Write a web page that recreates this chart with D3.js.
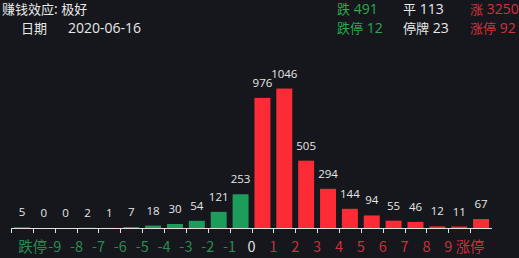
<!DOCTYPE html>
<html>
<head>
<meta charset="utf-8">
<script src="https://cdn.jsdelivr.net/npm/d3@7"></script>
<style>
  html, body { margin: 0; padding: 0; background: #15171c; overflow: hidden; }
  svg { display: block; font-family: "Noto Sans CJK SC", "Noto Sans", sans-serif; }
</style>
</head>
<body>
<svg width="519" height="258"></svg>
<script>
// bar values, left (limit down) to right (limit up)
const barValues = [5, 0, 0, 2, 1, 7, 18, 30, 54, 121, 253, 976, 1046, 505, 294, 144, 94, 55, 46, 12, 11, 67];
const axisLabels = ['跌停', '-9', '-8', '-7', '-6', '-5', '-4', '-3', '-2', '-1', '0',
  '1', '2', '3', '4', '5', '6', '7', '8', '9', '涨停'];
const headerLeft = [['赚钱效应: 极好', 2, 14], ['日期', 21, 33], ['2020-06-16', 68, 33]];
const statLabels = ['跌 491', '平 113', '涨 3250', '跌停 12', '停牌 23', '涨停 92'];

const GREEN = '#1d9d5c', RED = '#fd2b36';
const svg = d3.select('svg');

const x = d3.scaleBand()
  .domain(d3.range(barValues.length))
  .range([11, 492])
  .paddingInner(0.27)
  .paddingOuter(0.135);
const y = d3.scaleLinear().domain([0, 1200]).range([228, 68]);

// split text so latin digits get a slightly larger latin face
function mixed(sel) {
  sel.each(function (d) {
    const t = d3.select(this);
    const str = typeof d === 'string' ? d : d[0];
    (str.match(/[\x00-\x7f]+|[^\x00-\x7f]+/g) || []).forEach(part => {
      const latin = /^[\x00-\x7f]+$/.test(part);
      t.append('tspan')
        .attr('font-size', latin ? 14 : 13)
        .attr('font-family', latin ? '"Open Sans", "Noto Sans", sans-serif' : null)
        .attr('xml:space', 'preserve')
        .text(part);
    });
  });
}

// header
svg.selectAll('text.hdr')
  .data(headerLeft)
  .enter()
  .append('text')
  .attr('class', 'hdr')
  .attr('x', d => d[1])
  .attr('y', d => d[2])
  .attr('fill', '#e8e8e8')
  .style('white-space', 'pre')
  .call(mixed);

const statColors = ['#2ea84f', '#e8e8e8', '#d6303b'];
svg.selectAll('text.stat')
  .data(statLabels)
  .enter()
  .append('text')
  .attr('class', 'stat')
  .attr('x', (d, i) => [337, 403, 470][i % 3])
  .attr('y', (d, i) => i < 3 ? 14 : 33)
  .attr('fill', (d, i) => statColors[i % 3])
  .style('white-space', 'pre')
  .call(mixed);

// bars
svg.append('g')
  .selectAll('rect')
  .data(barValues)
  .enter()
  .append('rect')
  .attr('x', (d, i) => x(i))
  .attr('width', x.bandwidth())
  .attr('y', d => y(d))
  .attr('height', d => y(0) - y(d))
  .attr('fill', (d, i) => i <= 10 ? GREEN : RED);

svg.append('g')
  .selectAll('text')
  .data(barValues)
  .enter()
  .append('text')
  .attr('x', (d, i) => x(i) + x.bandwidth() / 2)
  .attr('y', d => y(d) - 11)
  .attr('text-anchor', 'middle')
  .attr('fill', '#e6e6e6')
  .attr('font-family', '"Open Sans", "Noto Sans", sans-serif')
  .attr('font-size', 11.5)
  .text(d => d);

// axis
const step = x.step();
const x0 = x.range()[0];
svg.append('line')
  .attr('x1', x0).attr('x2', x.range()[1])
  .attr('y1', 228.5).attr('y2', 228.5)
  .attr('stroke', '#e0e0e0');

svg.append('g')
  .selectAll('line')
  .data(d3.range(barValues.length))
  .enter()
  .append('line')
  .attr('x1', i => Math.round(x0 + i * step) + 0.5)
  .attr('x2', i => Math.round(x0 + i * step) + 0.5)
  .attr('y1', 228).attr('y2', 233)
  .attr('stroke', '#e0e0e0');

svg.append('g')
  .selectAll('text')
  .data(axisLabels)
  .enter()
  .append('text')
  .attr('x', (d, i) => x0 + (i + 1) * step)
  .attr('y', 252)
  .attr('text-anchor', 'middle')
  .attr('font-size', 14.5)
  .attr('fill', (d, i) => i < 10 ? '#2a8a52' : i === 10 ? '#e0e0e0' : '#c9303a')
  .text(d => d);
</script>
</body>
</html>
